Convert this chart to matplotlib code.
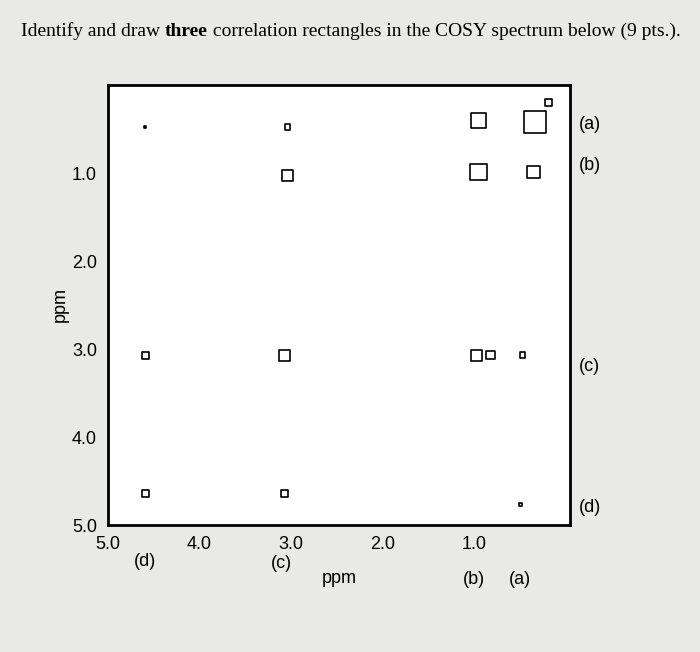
import matplotlib
matplotlib.use("Agg")
import matplotlib.pyplot as plt

x_ticks = [5.0, 4.0, 3.0, 2.0, 1.0]
y_ticks = [1.0, 2.0, 3.0, 4.0, 5.0]
tick_labels = ["5.0", "4.0", "3.0", "2.0", "1.0"]
y_labels = ["1.0", "2.0", "3.0", "4.0", "5.0"]
peak_x = [0.95, 0.33, 0.18, 0.95, 0.35, 3.04, 3.04, 3.07, 4.59, 0.97, 0.82, 0.47, 4.59, 3.07, 0.49, 4.6]
peak_y = [0.40, 0.42, 0.20, 0.99, 0.99, 0.48, 1.03, 3.07, 3.07, 3.07, 3.07, 3.07, 4.64, 4.64, 4.77, 0.48]
peak_size = [11, 16, 5, 12, 9, 4, 8, 8, 5, 8, 6, 4, 5, 5, 2, 1.5]
row_labels = ["(a)", "(b)", "(c)", "(d)"]
row_pos = [0.45, 0.92, 3.2, 4.8]
col_labels = ["(d)", "(c)", "(b)", "(a)"]
col_pos = [4.6, 3.1, 1.0, 0.5]
col_row = [5.42, 5.44, 5.62, 5.62]

fig = plt.figure(figsize=(7, 6.52), dpi=100)
fig.patch.set_facecolor("#e9e9e7")
t1 = fig.text(0.03, 0.952, "Identify and draw ", fontsize=14, family="Liberation Serif", va="center")
fig.canvas.draw()
bb = t1.get_window_extent()
t2 = fig.text(bb.x1 / fig.bbox.width, 0.952, "three", fontsize=14, family="Liberation Serif", weight="bold", va="center")
bb2 = t2.get_window_extent()
fig.text(bb2.x1 / fig.bbox.width, 0.952, " correlation rectangles in the COSY spectrum below (9 pts.).",
         fontsize=14, family="Liberation Serif", va="center")

ax = fig.add_axes([108/700, 1-525/652, (570-108)/700, (525-85)/652])
ax.set_facecolor("white")
ax.set_xlim(5.0, -0.05)
ax.set_ylim(5.0, 0.0)
for s in ax.spines.values():
    s.set_linewidth(2)
ax.set_xticks(x_ticks)
ax.set_xticklabels(tick_labels, fontsize=13, family="Liberation Sans")
ax.set_yticks(y_ticks)
ax.set_yticklabels(y_labels, fontsize=13, family="Liberation Sans")
ax.tick_params(length=0, pad=8)
ax.set_xlabel("ppm", fontsize=13, family="Liberation Sans", labelpad=12)
ax.set_ylabel("ppm", fontsize=13, family="Liberation Sans", labelpad=2)
ax.scatter(peak_x, peak_y, s=[v**2 for v in peak_size], marker="s",
           facecolors="white", edgecolors="black", linewidths=1.2, zorder=3)
for lab, p in zip(row_labels, row_pos):
    ax.text(1.02, 1 - p/5.0, lab, transform=ax.transAxes, fontsize=13,
            family="Liberation Sans", va="center", ha="left")
for lab, p, r in zip(col_labels, col_pos, col_row):
    ax.text(p, r, lab, fontsize=13, family="Liberation Sans", ha="center", va="center", clip_on=False)
fig.savefig("out.png", dpi=100, facecolor=fig.get_facecolor())
